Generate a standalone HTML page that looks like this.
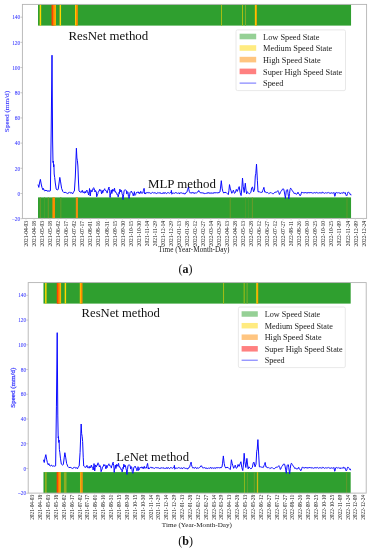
<!DOCTYPE html>
<html><head><meta charset="utf-8"><title>Speed state classification</title>
<style>
html,body{margin:0;padding:0;background:#fff;}
body{width:372px;height:550px;overflow:hidden;}
svg{display:block;font-family:'Liberation Serif','Times New Roman',serif;filter:blur(0.3px);}
</style></head>
<body>
<svg width="372" height="550" viewBox="0 0 372 550">
<rect width="372" height="550" fill="#fff"/>
<rect x="38.00" y="4.40" width="313.05" height="21.20" fill="#2f9f2f"/>
<rect x="39.66" y="4.40" width="1.50" height="21.20" fill="#ffd700"/>
<rect x="51.54" y="4.40" width="2.21" height="21.20" fill="#ff4500"/>
<rect x="53.15" y="4.40" width="2.15" height="21.20" fill="#ff8c00"/>
<rect x="54.70" y="4.40" width="1.23" height="21.20" fill="#ffb400"/>
<rect x="59.60" y="4.40" width="1.45" height="21.20" fill="#ffd700"/>
<rect x="75.00" y="4.40" width="1.62" height="21.20" fill="#ffc800"/>
<rect x="76.02" y="4.40" width="1.77" height="21.20" fill="#ff8c00"/>
<rect x="221.01" y="4.40" width="1.00" height="21.20" fill="#a8be16"/>
<rect x="242.00" y="4.40" width="1.00" height="21.20" fill="#a8c014"/>
<rect x="245.00" y="4.40" width="1.00" height="21.20" fill="#7fae28"/>
<rect x="254.87" y="4.40" width="1.30" height="21.20" fill="#ffd700"/>
<rect x="255.57" y="4.40" width="1.23" height="21.20" fill="#ffa500"/>
<rect x="38.00" y="197.40" width="313.05" height="21.00" fill="#2f9f2f"/>
<rect x="39.79" y="197.40" width="1.02" height="21.00" fill="#6e9a2a"/>
<rect x="44.02" y="197.40" width="0.80" height="21.00" fill="#4ea02e"/>
<rect x="47.77" y="197.40" width="1.02" height="21.00" fill="#6e9a2a"/>
<rect x="52.40" y="197.40" width="2.57" height="21.00" fill="#ff8c00"/>
<rect x="60.08" y="197.40" width="1.34" height="21.00" fill="#559e2c"/>
<rect x="75.83" y="197.40" width="2.14" height="21.00" fill="#f08c10"/>
<rect x="229.78" y="197.40" width="0.80" height="21.00" fill="#7a9a28"/>
<rect x="245.23" y="197.40" width="0.64" height="21.00" fill="#5a9e2a"/>
<rect x="248.50" y="197.40" width="0.54" height="21.00" fill="#5a9e2a"/>
<rect x="251.90" y="197.40" width="0.80" height="21.00" fill="#7a9a28"/>
<rect x="346.44" y="197.40" width="1.07" height="21.00" fill="#5a9a2c"/>
<polyline points="38.00,184.60 38.80,187.40 39.50,183.00 40.40,179.40 41.20,184.00 42.00,187.50 42.90,189.80 43.50,188.50 44.20,190.50 44.90,191.00 46.00,190.00 47.00,191.20 48.00,190.80 49.00,191.20 50.40,190.80 51.20,130.00 52.00,55.20 52.60,140.00 53.00,162.50 53.30,161.00 53.60,167.00 53.90,164.50 54.20,174.00 54.70,177.50 55.30,183.00 56.20,189.00 57.20,190.00 58.20,189.50 59.20,182.00 59.80,177.40 60.60,181.90 61.60,188.40 62.90,191.60 63.90,192.60 65.20,192.30 66.50,192.90 67.70,193.50 69.00,192.60 69.70,191.90 70.60,193.20 71.60,192.60 72.60,193.90 73.50,191.90 74.40,191.00 75.30,177.00 76.40,148.20 76.90,158.00 77.40,160.70 77.90,166.00 78.50,182.00 79.00,191.00 80.00,191.90 81.30,192.30 82.30,190.30 82.90,192.60 84.00,191.90 84.00,191.99 84.54,193.24 85.00,192.30 85.07,191.43 85.61,192.89 86.00,191.80 86.14,191.31 86.68,190.35 87.00,190.00 87.21,192.24 87.75,192.01 88.00,192.50 88.28,193.64 88.60,195.00 88.82,194.07 89.35,190.56 89.50,188.50 89.89,192.66 90.20,196.00 90.43,194.98 90.96,189.89 91.00,190.50 91.50,190.92 92.00,192.00 92.03,191.54 92.57,189.66 93.00,190.00 93.10,188.50 93.64,187.66 94.10,188.50 94.17,188.57 94.71,190.72 95.00,192.00 95.25,191.10 95.60,190.50 95.78,191.04 96.20,192.10 96.32,191.99 96.70,196.80 96.85,196.26 97.39,194.90 97.92,193.71 98.00,192.80 98.46,191.56 98.99,191.40 99.53,189.38 100.00,190.70 100.06,190.36 100.60,189.75 101.14,191.37 101.40,193.10 101.67,193.88 102.21,190.50 102.70,192.10 102.74,192.75 103.28,191.41 103.81,189.93 104.35,189.71 104.70,188.70 104.88,189.44 105.42,190.67 105.96,190.29 106.10,190.70 106.49,191.11 107.03,192.38 107.10,193.10 107.56,190.80 108.10,190.02 108.63,187.72 109.10,187.00 109.17,188.59 109.70,190.84 109.80,193.40 110.10,197.50 110.24,195.76 110.77,193.00 111.10,192.10 111.31,190.13 111.85,193.50 112.38,189.40 112.80,191.40 112.92,190.94 113.45,189.77 113.99,190.79 114.10,189.10 114.52,188.22 115.06,192.12 115.50,192.10 115.59,191.57 116.13,192.81 116.67,193.07 117.20,194.97 117.50,194.80 117.74,194.55 118.20,197.10 118.27,196.67 118.81,194.38 119.20,192.10 119.34,193.58 119.88,189.10 120.41,191.98 120.50,190.50 120.95,191.30 121.40,190.40 121.48,190.35 122.02,193.48 122.56,195.22 123.09,199.54 123.10,198.10 123.63,194.60 124.16,190.47 124.20,190.40 124.70,190.05 125.23,189.92 125.60,190.00 125.77,190.14 126.30,190.47 126.84,194.07 127.00,192.50 127.38,191.84 127.91,191.81 128.45,196.45 128.98,197.94 129.10,198.40 129.52,196.27 130.05,192.59 130.10,192.50 130.59,191.88 131.12,191.78 131.50,191.10 131.66,192.37 132.20,192.43 132.73,193.84 132.90,194.60 133.27,195.80 133.80,193.72 134.30,192.50 134.34,191.67 134.87,195.45 135.41,194.86 135.70,194.60 135.94,193.70 136.48,192.37 137.01,192.90 137.10,192.50 137.55,191.98 138.09,192.04 138.50,193.20 138.62,191.99 139.16,192.49 139.69,193.73 140.23,192.14 140.30,192.50 140.76,191.29 141.30,193.32 141.70,192.80 141.83,192.76 142.37,193.08 142.91,193.02 143.10,191.80 143.44,190.46 143.98,188.60 144.10,188.30 144.51,191.55 144.80,193.90 145.05,192.73 145.58,194.05 146.00,193.20 146.50,192.60 147.04,192.28 147.30,192.40 147.57,192.73 148.11,192.32 148.60,193.20 148.64,193.15 149.18,192.46 149.71,193.13 149.90,192.80 150.25,193.01 150.78,193.55 151.20,193.40 151.32,193.18 151.86,193.00 152.39,192.41 152.50,192.40 152.93,192.44 153.46,192.95 153.80,193.10 154.00,192.74 154.53,192.84 155.07,192.98 155.10,192.80 155.60,193.09 156.14,193.26 156.40,193.50 156.67,193.86 157.21,192.95 157.70,192.60 157.75,192.47 158.28,192.86 158.82,192.90 159.00,193.10 159.35,192.90 159.89,192.74 160.30,192.70 160.42,193.28 160.96,193.11 161.49,193.48 161.60,193.50 162.03,193.40 162.57,193.41 162.90,192.70 163.10,192.71 163.64,192.77 164.17,193.71 164.20,193.10 164.71,192.54 165.24,192.61 165.50,192.60 165.78,192.96 166.31,193.73 166.80,193.50 166.85,193.24 167.38,192.58 167.92,193.06 168.10,192.80 168.46,192.78 168.99,192.98 169.40,193.20 169.53,193.25 170.06,192.90 170.60,192.63 170.70,192.50 171.00,192.90 171.13,191.93 171.40,190.30 171.67,193.24 171.80,194.20 172.20,193.83 172.50,192.90 172.74,192.95 173.28,192.93 173.81,193.33 174.35,193.37 174.60,193.30 174.88,192.87 175.42,192.68 175.90,192.50 175.95,192.80 176.49,192.88 177.02,193.20 177.20,193.40 177.56,193.34 178.09,193.12 178.50,193.00 178.63,193.05 179.17,192.77 179.70,193.90 179.80,193.50 180.24,193.25 180.77,192.61 181.10,192.60 181.31,192.96 181.84,193.08 182.38,193.29 182.40,193.30 182.91,193.44 183.45,193.62 183.70,193.00 183.99,193.27 184.52,193.77 185.00,193.60 185.06,194.09 185.59,192.87 186.13,192.57 186.66,192.46 187.00,192.00 187.20,190.87 187.73,189.31 188.27,187.79 188.40,187.00 188.80,189.28 189.30,191.50 189.34,191.72 189.88,192.09 190.00,192.80 190.41,193.22 190.95,192.56 191.00,192.40 191.48,192.98 192.00,193.20 192.02,193.31 192.55,192.44 193.00,192.60 193.09,192.30 193.62,192.73 194.00,193.30 194.16,193.70 194.70,192.74 195.00,192.80 195.23,192.83 195.77,193.04 196.00,193.20 196.30,193.13 196.84,192.74 197.00,192.50 197.37,192.38 197.91,191.73 198.00,192.00 198.44,190.73 198.98,190.97 199.10,190.80 199.51,191.65 200.00,192.50 200.05,192.83 200.59,192.77 201.00,193.00 201.12,192.80 201.66,192.84 202.00,192.60 202.19,192.37 202.73,192.92 203.00,193.40 203.26,192.99 203.80,192.99 204.00,192.80 204.33,193.56 204.87,193.60 205.00,193.50 205.41,193.54 205.94,193.00 206.00,192.90 206.48,193.26 207.00,193.50 207.01,193.38 207.55,193.05 208.00,192.80 208.08,192.24 208.62,192.87 209.00,193.40 209.15,192.97 209.69,193.13 210.00,192.70 210.22,193.00 210.76,193.44 211.00,193.30 211.30,193.48 211.83,192.64 212.00,192.60 212.37,193.08 212.90,193.63 213.00,193.20 213.44,192.94 213.97,192.89 214.00,192.60 214.51,192.76 215.00,193.00 215.04,192.58 215.58,192.80 216.00,192.60 216.12,192.42 216.65,192.76 217.19,192.73 217.72,193.04 217.90,193.00 218.26,192.29 218.79,193.07 219.33,192.63 219.86,191.93 219.90,192.00 220.50,188.10 221.30,180.70 222.10,188.10 222.80,191.40 223.70,193.00 225.00,192.30 226.30,192.60 227.30,193.60 228.30,194.60 228.90,190.70 229.50,184.60 230.20,188.10 230.80,190.10 231.80,193.30 232.80,191.40 233.40,190.10 234.40,193.30 235.40,192.60 236.30,189.40 237.30,191.40 238.30,188.80 239.20,186.60 240.10,192.50 241.10,195.60 241.80,189.00 242.50,178.00 243.20,186.30 244.20,192.50 245.30,183.20 245.90,189.00 246.60,193.90 247.30,191.80 248.40,192.80 249.40,193.90 250.80,192.50 251.80,187.60 252.50,187.00 253.60,191.80 254.60,189.00 255.30,175.90 255.80,173.80 256.50,164.10 257.40,180.70 258.00,191.80 259.00,191.72 259.40,191.80 259.54,192.02 260.07,192.07 260.61,192.31 260.80,192.50 261.14,192.25 261.68,192.52 261.90,192.60 262.21,192.10 262.75,190.48 263.28,189.24 263.82,187.59 263.90,187.30 264.36,189.85 264.80,192.10 264.89,192.18 265.43,191.76 265.96,192.65 266.50,192.68 266.80,192.60 267.03,192.87 267.57,192.50 268.10,192.76 268.64,193.30 268.70,193.60 269.17,193.21 269.71,193.16 270.25,192.77 270.60,192.60 270.78,192.85 271.32,192.77 271.85,193.32 272.39,193.61 272.60,193.60 272.92,193.23 273.46,193.66 273.99,193.03 274.50,192.60 274.53,192.95 275.07,192.27 275.60,192.10 276.14,192.09 276.50,192.10 276.67,191.88 277.21,191.53 277.74,190.84 277.90,190.60 278.28,191.45 278.81,192.69 279.35,194.21 279.40,194.50 279.88,193.86 280.42,192.14 280.80,191.60 280.96,191.48 281.49,190.85 282.03,189.60 282.30,189.70 282.56,189.42 283.10,189.21 283.20,188.70 283.63,189.13 284.17,190.93 284.20,191.10 284.70,194.13 285.24,197.18 285.40,198.40 285.78,195.30 286.30,190.60 286.31,190.57 286.85,189.78 287.38,190.10 287.60,189.70 287.92,192.33 288.45,196.52 288.80,198.90 288.99,197.89 289.52,193.46 290.00,189.70 290.06,189.63 290.59,188.20 290.80,188.20 291.13,188.98 291.67,189.59 292.20,190.60 292.40,191.10 292.74,191.17 293.27,191.97 293.81,192.82 293.90,193.10 294.34,193.68 294.88,192.91 295.41,193.31 295.95,194.05 296.00,194.00 296.49,194.34 297.00,193.80 297.02,193.96 297.56,192.79 298.00,193.00 298.09,192.34 298.63,193.73 299.00,194.00 299.16,194.05 299.70,194.81 300.10,195.80 300.23,195.93 300.50,195.30 300.77,194.91 301.30,193.20 301.70,192.10 301.84,192.21 302.38,192.42 302.91,192.92 303.10,192.50 303.45,192.78 303.98,192.91 304.50,192.90 304.52,193.06 305.05,192.31 305.59,193.05 305.90,192.60 306.12,192.98 306.66,193.08 307.20,192.56 307.30,193.20 307.73,192.79 308.27,192.97 308.70,192.50 308.80,191.99 309.34,192.63 309.87,193.14 310.10,192.90 310.41,192.42 310.94,193.14 311.48,192.67 311.50,192.50 312.01,192.71 312.55,193.12 312.90,193.20 313.09,193.32 313.62,192.93 314.16,193.01 314.30,192.60 314.69,192.49 315.23,192.67 315.70,192.90 315.76,193.19 316.30,192.69 316.83,192.23 317.10,192.40 317.37,192.84 317.91,193.30 318.44,193.03 318.50,193.20 318.98,192.62 319.51,192.80 319.90,192.70 320.05,192.69 320.58,192.76 321.12,193.38 321.30,193.00 321.65,192.54 322.19,193.00 322.70,192.40 322.72,192.03 323.26,192.44 323.80,193.14 324.10,193.10 324.33,193.37 324.87,193.14 325.40,192.83 325.50,192.70 325.94,192.87 326.47,193.02 326.90,193.10 327.01,193.22 327.54,192.73 328.08,192.59 328.30,192.40 328.62,192.71 329.15,192.76 329.69,193.22 329.70,193.00 330.22,193.06 330.76,193.38 331.10,192.70 331.29,192.87 331.83,192.83 332.36,193.04 332.50,193.20 332.90,192.97 333.43,192.94 333.90,192.40 333.97,192.60 334.51,195.14 334.80,196.30 335.04,196.06 335.58,192.97 335.80,193.00 336.11,192.51 336.65,192.65 336.80,192.50 337.18,192.78 337.72,192.95 338.00,193.00 338.25,192.77 338.79,192.88 339.00,192.60 339.33,192.91 339.86,193.05 340.00,193.30 340.40,193.79 340.93,192.85 341.00,192.70 341.47,192.86 342.00,193.40 342.00,193.37 342.54,192.96 343.00,192.70 343.07,192.72 343.61,192.19 344.00,193.20 344.14,192.97 344.68,193.09 345.00,192.60 345.22,192.71 345.75,194.18 346.29,195.62 346.60,196.00 346.82,195.64 347.36,194.34 347.50,193.50 347.89,192.25 348.30,192.00 348.43,192.04 348.96,192.64 349.20,193.00 349.50,193.56 350.00,194.00 350.04,194.37 350.57,193.94 351.00,195.30" fill="none" stroke="#0a0aff" stroke-width="1.0" stroke-linejoin="round"/>
<rect x="22.40" y="4.40" width="344.20" height="214.00" fill="none" stroke="#b4b4b4" stroke-width="0.9"/>
<line x1="20.40" y1="218.69" x2="22.40" y2="218.69" stroke="#b4b4b4" stroke-width="0.7"/>
<text x="20.30" y="220.89" font-size="5.45" text-anchor="end" fill="#3a3aff" stroke="#3a3aff" stroke-width="0.06">−20</text>
<line x1="20.40" y1="193.50" x2="22.40" y2="193.50" stroke="#b4b4b4" stroke-width="0.7"/>
<text x="20.30" y="195.70" font-size="5.45" text-anchor="end" fill="#3a3aff" stroke="#3a3aff" stroke-width="0.06">0</text>
<line x1="20.40" y1="168.31" x2="22.40" y2="168.31" stroke="#b4b4b4" stroke-width="0.7"/>
<text x="20.30" y="170.51" font-size="5.45" text-anchor="end" fill="#3a3aff" stroke="#3a3aff" stroke-width="0.06">20</text>
<line x1="20.40" y1="143.12" x2="22.40" y2="143.12" stroke="#b4b4b4" stroke-width="0.7"/>
<text x="20.30" y="145.32" font-size="5.45" text-anchor="end" fill="#3a3aff" stroke="#3a3aff" stroke-width="0.06">40</text>
<line x1="20.40" y1="117.94" x2="22.40" y2="117.94" stroke="#b4b4b4" stroke-width="0.7"/>
<text x="20.30" y="120.13" font-size="5.45" text-anchor="end" fill="#3a3aff" stroke="#3a3aff" stroke-width="0.06">60</text>
<line x1="20.40" y1="92.75" x2="22.40" y2="92.75" stroke="#b4b4b4" stroke-width="0.7"/>
<text x="20.30" y="94.95" font-size="5.45" text-anchor="end" fill="#3a3aff" stroke="#3a3aff" stroke-width="0.06">80</text>
<line x1="20.40" y1="67.56" x2="22.40" y2="67.56" stroke="#b4b4b4" stroke-width="0.7"/>
<text x="20.30" y="69.76" font-size="5.45" text-anchor="end" fill="#3a3aff" stroke="#3a3aff" stroke-width="0.06">100</text>
<line x1="20.40" y1="42.37" x2="22.40" y2="42.37" stroke="#b4b4b4" stroke-width="0.7"/>
<text x="20.30" y="44.57" font-size="5.45" text-anchor="end" fill="#3a3aff" stroke="#3a3aff" stroke-width="0.06">120</text>
<line x1="20.40" y1="17.18" x2="22.40" y2="17.18" stroke="#b4b4b4" stroke-width="0.7"/>
<text x="20.30" y="19.38" font-size="5.45" text-anchor="end" fill="#3a3aff" stroke="#3a3aff" stroke-width="0.06">140</text>
<line x1="26.00" y1="218.40" x2="26.00" y2="220.40" stroke="#cfcfcf" stroke-width="0.6"/>
<text transform="translate(28.20,221.00) rotate(-90)" font-size="5.45" text-anchor="end" fill="#111">2021-04-03</text>
<line x1="34.03" y1="218.40" x2="34.03" y2="220.40" stroke="#cfcfcf" stroke-width="0.6"/>
<text transform="translate(36.23,221.00) rotate(-90)" font-size="5.45" text-anchor="end" fill="#111">2021-04-18</text>
<line x1="42.06" y1="218.40" x2="42.06" y2="220.40" stroke="#cfcfcf" stroke-width="0.6"/>
<text transform="translate(44.26,221.00) rotate(-90)" font-size="5.45" text-anchor="end" fill="#111">2021-05-03</text>
<line x1="50.10" y1="218.40" x2="50.10" y2="220.40" stroke="#cfcfcf" stroke-width="0.6"/>
<text transform="translate(52.30,221.00) rotate(-90)" font-size="5.45" text-anchor="end" fill="#111">2021-05-18</text>
<line x1="58.13" y1="218.40" x2="58.13" y2="220.40" stroke="#cfcfcf" stroke-width="0.6"/>
<text transform="translate(60.33,221.00) rotate(-90)" font-size="5.45" text-anchor="end" fill="#111">2021-06-02</text>
<line x1="66.16" y1="218.40" x2="66.16" y2="220.40" stroke="#cfcfcf" stroke-width="0.6"/>
<text transform="translate(68.36,221.00) rotate(-90)" font-size="5.45" text-anchor="end" fill="#111">2021-06-17</text>
<line x1="74.19" y1="218.40" x2="74.19" y2="220.40" stroke="#cfcfcf" stroke-width="0.6"/>
<text transform="translate(76.39,221.00) rotate(-90)" font-size="5.45" text-anchor="end" fill="#111">2021-07-02</text>
<line x1="82.23" y1="218.40" x2="82.23" y2="220.40" stroke="#cfcfcf" stroke-width="0.6"/>
<text transform="translate(84.43,221.00) rotate(-90)" font-size="5.45" text-anchor="end" fill="#111">2021-07-17</text>
<line x1="90.26" y1="218.40" x2="90.26" y2="220.40" stroke="#cfcfcf" stroke-width="0.6"/>
<text transform="translate(92.46,221.00) rotate(-90)" font-size="5.45" text-anchor="end" fill="#111">2021-08-01</text>
<line x1="98.29" y1="218.40" x2="98.29" y2="220.40" stroke="#cfcfcf" stroke-width="0.6"/>
<text transform="translate(100.49,221.00) rotate(-90)" font-size="5.45" text-anchor="end" fill="#111">2021-08-16</text>
<line x1="106.33" y1="218.40" x2="106.33" y2="220.40" stroke="#cfcfcf" stroke-width="0.6"/>
<text transform="translate(108.52,221.00) rotate(-90)" font-size="5.45" text-anchor="end" fill="#111">2021-08-31</text>
<line x1="114.36" y1="218.40" x2="114.36" y2="220.40" stroke="#cfcfcf" stroke-width="0.6"/>
<text transform="translate(116.56,221.00) rotate(-90)" font-size="5.45" text-anchor="end" fill="#111">2021-09-15</text>
<line x1="122.39" y1="218.40" x2="122.39" y2="220.40" stroke="#cfcfcf" stroke-width="0.6"/>
<text transform="translate(124.59,221.00) rotate(-90)" font-size="5.45" text-anchor="end" fill="#111">2021-09-30</text>
<line x1="130.42" y1="218.40" x2="130.42" y2="220.40" stroke="#cfcfcf" stroke-width="0.6"/>
<text transform="translate(132.62,221.00) rotate(-90)" font-size="5.45" text-anchor="end" fill="#111">2021-10-15</text>
<line x1="138.45" y1="218.40" x2="138.45" y2="220.40" stroke="#cfcfcf" stroke-width="0.6"/>
<text transform="translate(140.65,221.00) rotate(-90)" font-size="5.45" text-anchor="end" fill="#111">2021-10-30</text>
<line x1="146.49" y1="218.40" x2="146.49" y2="220.40" stroke="#cfcfcf" stroke-width="0.6"/>
<text transform="translate(148.69,221.00) rotate(-90)" font-size="5.45" text-anchor="end" fill="#111">2021-11-14</text>
<line x1="154.52" y1="218.40" x2="154.52" y2="220.40" stroke="#cfcfcf" stroke-width="0.6"/>
<text transform="translate(156.72,221.00) rotate(-90)" font-size="5.45" text-anchor="end" fill="#111">2021-11-29</text>
<line x1="162.55" y1="218.40" x2="162.55" y2="220.40" stroke="#cfcfcf" stroke-width="0.6"/>
<text transform="translate(164.75,221.00) rotate(-90)" font-size="5.45" text-anchor="end" fill="#111">2021-12-14</text>
<line x1="170.58" y1="218.40" x2="170.58" y2="220.40" stroke="#cfcfcf" stroke-width="0.6"/>
<text transform="translate(172.78,221.00) rotate(-90)" font-size="5.45" text-anchor="end" fill="#111">2021-12-29</text>
<line x1="178.62" y1="218.40" x2="178.62" y2="220.40" stroke="#cfcfcf" stroke-width="0.6"/>
<text transform="translate(180.82,221.00) rotate(-90)" font-size="5.45" text-anchor="end" fill="#111">2022-01-13</text>
<line x1="186.65" y1="218.40" x2="186.65" y2="220.40" stroke="#cfcfcf" stroke-width="0.6"/>
<text transform="translate(188.85,221.00) rotate(-90)" font-size="5.45" text-anchor="end" fill="#111">2022-01-28</text>
<line x1="194.68" y1="218.40" x2="194.68" y2="220.40" stroke="#cfcfcf" stroke-width="0.6"/>
<text transform="translate(196.88,221.00) rotate(-90)" font-size="5.45" text-anchor="end" fill="#111">2022-02-12</text>
<line x1="202.72" y1="218.40" x2="202.72" y2="220.40" stroke="#cfcfcf" stroke-width="0.6"/>
<text transform="translate(204.91,221.00) rotate(-90)" font-size="5.45" text-anchor="end" fill="#111">2022-02-27</text>
<line x1="210.75" y1="218.40" x2="210.75" y2="220.40" stroke="#cfcfcf" stroke-width="0.6"/>
<text transform="translate(212.95,221.00) rotate(-90)" font-size="5.45" text-anchor="end" fill="#111">2022-03-14</text>
<line x1="218.78" y1="218.40" x2="218.78" y2="220.40" stroke="#cfcfcf" stroke-width="0.6"/>
<text transform="translate(220.98,221.00) rotate(-90)" font-size="5.45" text-anchor="end" fill="#111">2022-03-29</text>
<line x1="226.81" y1="218.40" x2="226.81" y2="220.40" stroke="#cfcfcf" stroke-width="0.6"/>
<text transform="translate(229.01,221.00) rotate(-90)" font-size="5.45" text-anchor="end" fill="#111">2022-04-13</text>
<line x1="234.84" y1="218.40" x2="234.84" y2="220.40" stroke="#cfcfcf" stroke-width="0.6"/>
<text transform="translate(237.04,221.00) rotate(-90)" font-size="5.45" text-anchor="end" fill="#111">2022-04-28</text>
<line x1="242.88" y1="218.40" x2="242.88" y2="220.40" stroke="#cfcfcf" stroke-width="0.6"/>
<text transform="translate(245.08,221.00) rotate(-90)" font-size="5.45" text-anchor="end" fill="#111">2022-05-13</text>
<line x1="250.91" y1="218.40" x2="250.91" y2="220.40" stroke="#cfcfcf" stroke-width="0.6"/>
<text transform="translate(253.11,221.00) rotate(-90)" font-size="5.45" text-anchor="end" fill="#111">2022-05-28</text>
<line x1="258.94" y1="218.40" x2="258.94" y2="220.40" stroke="#cfcfcf" stroke-width="0.6"/>
<text transform="translate(261.14,221.00) rotate(-90)" font-size="5.45" text-anchor="end" fill="#111">2022-06-12</text>
<line x1="266.98" y1="218.40" x2="266.98" y2="220.40" stroke="#cfcfcf" stroke-width="0.6"/>
<text transform="translate(269.17,221.00) rotate(-90)" font-size="5.45" text-anchor="end" fill="#111">2022-06-27</text>
<line x1="275.01" y1="218.40" x2="275.01" y2="220.40" stroke="#cfcfcf" stroke-width="0.6"/>
<text transform="translate(277.21,221.00) rotate(-90)" font-size="5.45" text-anchor="end" fill="#111">2022-07-12</text>
<line x1="283.04" y1="218.40" x2="283.04" y2="220.40" stroke="#cfcfcf" stroke-width="0.6"/>
<text transform="translate(285.24,221.00) rotate(-90)" font-size="5.45" text-anchor="end" fill="#111">2022-07-27</text>
<line x1="291.07" y1="218.40" x2="291.07" y2="220.40" stroke="#cfcfcf" stroke-width="0.6"/>
<text transform="translate(293.27,221.00) rotate(-90)" font-size="5.45" text-anchor="end" fill="#111">2022-08-11</text>
<line x1="299.10" y1="218.40" x2="299.10" y2="220.40" stroke="#cfcfcf" stroke-width="0.6"/>
<text transform="translate(301.30,221.00) rotate(-90)" font-size="5.45" text-anchor="end" fill="#111">2022-08-26</text>
<line x1="307.14" y1="218.40" x2="307.14" y2="220.40" stroke="#cfcfcf" stroke-width="0.6"/>
<text transform="translate(309.34,221.00) rotate(-90)" font-size="5.45" text-anchor="end" fill="#111">2022-09-10</text>
<line x1="315.17" y1="218.40" x2="315.17" y2="220.40" stroke="#cfcfcf" stroke-width="0.6"/>
<text transform="translate(317.37,221.00) rotate(-90)" font-size="5.45" text-anchor="end" fill="#111">2022-09-25</text>
<line x1="323.20" y1="218.40" x2="323.20" y2="220.40" stroke="#cfcfcf" stroke-width="0.6"/>
<text transform="translate(325.40,221.00) rotate(-90)" font-size="5.45" text-anchor="end" fill="#111">2022-10-10</text>
<line x1="331.24" y1="218.40" x2="331.24" y2="220.40" stroke="#cfcfcf" stroke-width="0.6"/>
<text transform="translate(333.43,221.00) rotate(-90)" font-size="5.45" text-anchor="end" fill="#111">2022-10-25</text>
<line x1="339.27" y1="218.40" x2="339.27" y2="220.40" stroke="#cfcfcf" stroke-width="0.6"/>
<text transform="translate(341.47,221.00) rotate(-90)" font-size="5.45" text-anchor="end" fill="#111">2022-11-09</text>
<line x1="347.30" y1="218.40" x2="347.30" y2="220.40" stroke="#cfcfcf" stroke-width="0.6"/>
<text transform="translate(349.50,221.00) rotate(-90)" font-size="5.45" text-anchor="end" fill="#111">2022-11-24</text>
<line x1="355.33" y1="218.40" x2="355.33" y2="220.40" stroke="#cfcfcf" stroke-width="0.6"/>
<text transform="translate(357.53,221.00) rotate(-90)" font-size="5.45" text-anchor="end" fill="#111">2022-12-09</text>
<line x1="363.37" y1="218.40" x2="363.37" y2="220.40" stroke="#cfcfcf" stroke-width="0.6"/>
<text transform="translate(365.56,221.00) rotate(-90)" font-size="5.45" text-anchor="end" fill="#111">2022-12-24</text>
<text x="193.90" y="252.39" font-size="7.25" text-anchor="middle" fill="#222">Time (Year-Month-Day)</text>
<text transform="translate(9.42,111.50) rotate(-90)" font-size="6.24" textLength="41.25" lengthAdjust="spacingAndGlyphs" text-anchor="middle" fill="#4040ff" stroke="#4040ff" stroke-width="0.12">Speed (mm/d)</text>
<text x="68.40" y="40.00" font-size="12.9" fill="#111">ResNet method</text>
<text x="148.00" y="187.90" font-size="12.9" fill="#111">MLP method</text>
<rect x="236.00" y="29.90" width="109.50" height="60.70" rx="1.6" fill="#fff" fill-opacity="0.85" stroke="#e2e2e2" stroke-width="0.8"/>
<rect x="239.60" y="33.70" width="16.60" height="5.60" fill="#95d095"/>
<text x="263.10" y="39.64" font-size="8.3" fill="#222">Low Speed State</text>
<rect x="239.60" y="45.20" width="16.60" height="5.60" fill="#ffeb80"/>
<text x="263.10" y="51.14" font-size="8.3" fill="#222">Medium Speed State</text>
<rect x="239.60" y="56.80" width="16.60" height="5.60" fill="#ffc580"/>
<text x="263.10" y="62.74" font-size="8.3" fill="#222">High Speed State</text>
<rect x="239.60" y="68.60" width="16.60" height="5.60" fill="#ff8080"/>
<text x="263.10" y="74.54" font-size="8.3" fill="#222">Super High Speed State</text>
<line x1="239.60" y1="83.10" x2="256.20" y2="83.10" stroke="#6a6aff" stroke-width="1.0"/>
<text x="263.10" y="86.24" font-size="8.3" fill="#222">Speed</text>
<text x="185.6" y="272.56" font-size="12" text-anchor="middle" fill="#111">(<tspan font-weight="bold">a</tspan>)</text>
<rect x="43.47" y="282.60" width="307.21" height="21.00" fill="#2f9f2f"/>
<rect x="45.10" y="282.60" width="1.47" height="21.00" fill="#ffd700"/>
<rect x="56.77" y="282.60" width="2.18" height="21.00" fill="#ff4500"/>
<rect x="58.34" y="282.60" width="2.12" height="21.00" fill="#ff8c00"/>
<rect x="59.87" y="282.60" width="1.21" height="21.00" fill="#ffb400"/>
<rect x="64.68" y="282.60" width="1.42" height="21.00" fill="#ffd700"/>
<rect x="79.78" y="282.60" width="1.60" height="21.00" fill="#ffc800"/>
<rect x="80.78" y="282.60" width="1.73" height="21.00" fill="#ff8c00"/>
<rect x="223.07" y="282.60" width="0.98" height="21.00" fill="#a8be16"/>
<rect x="243.67" y="282.60" width="0.98" height="21.00" fill="#a8c014"/>
<rect x="246.61" y="282.60" width="0.98" height="21.00" fill="#7fae28"/>
<rect x="256.30" y="282.60" width="1.28" height="21.00" fill="#ffd700"/>
<rect x="256.98" y="282.60" width="1.21" height="21.00" fill="#ffa500"/>
<rect x="43.47" y="472.10" width="307.21" height="21.00" fill="#2f9f2f"/>
<rect x="45.21" y="472.10" width="1.37" height="21.00" fill="#a6b41a"/>
<rect x="56.66" y="472.10" width="2.18" height="21.00" fill="#ff4500"/>
<rect x="58.24" y="472.10" width="1.97" height="21.00" fill="#ff8c00"/>
<rect x="59.60" y="472.10" width="1.16" height="21.00" fill="#ffb000"/>
<rect x="63.91" y="472.10" width="2.63" height="21.00" fill="#8caf22"/>
<rect x="79.99" y="472.10" width="1.39" height="21.00" fill="#e0c010"/>
<rect x="80.78" y="472.10" width="2.00" height="21.00" fill="#f09010"/>
<rect x="243.98" y="472.10" width="1.00" height="21.00" fill="#88b820"/>
<rect x="246.97" y="472.10" width="1.00" height="21.00" fill="#5ea02c"/>
<rect x="253.83" y="472.10" width="0.95" height="21.00" fill="#6ea028"/>
<rect x="256.88" y="472.10" width="1.26" height="21.00" fill="#d0b814"/>
<rect x="346.00" y="472.10" width="1.16" height="21.00" fill="#5a9a2c"/>
<polyline points="43.48,459.76 44.26,462.51 44.95,458.19 45.83,454.65 46.62,459.17 47.40,462.61 48.28,464.87 48.87,463.59 49.56,465.55 50.25,466.04 51.33,465.06 52.31,466.24 53.29,465.85 54.27,466.24 55.64,465.85 56.43,406.13 57.21,332.66 57.80,415.95 58.20,438.05 58.49,436.58 58.78,442.47 59.08,440.02 59.37,449.35 59.86,452.78 60.45,458.19 61.34,464.08 62.32,465.06 63.30,464.57 64.28,457.20 64.87,452.69 65.65,457.11 66.64,463.49 67.91,466.63 68.89,467.62 70.17,467.32 71.44,467.91 72.62,468.50 73.90,467.62 74.58,466.93 75.47,468.21 76.45,467.62 77.43,468.89 78.31,466.93 79.20,466.04 80.08,452.29 81.16,424.01 81.65,433.63 82.14,436.28 82.63,441.49 83.22,457.20 83.71,466.04 84.69,466.93 85.97,467.32 86.95,465.36 87.54,467.62 88.62,466.93 88.62,467.01 89.14,468.24 89.60,467.32 89.67,466.46 90.19,467.90 90.58,466.83 90.72,466.35 91.24,465.40 91.56,465.06 91.77,467.26 92.30,467.04 92.54,467.52 92.82,468.64 93.13,469.97 93.35,469.06 93.87,465.61 94.01,463.59 94.40,467.67 94.70,470.96 94.92,469.95 95.45,464.95 95.49,465.55 95.97,465.96 96.47,467.03 96.50,466.58 97.02,464.73 97.45,465.06 97.55,463.59 98.08,462.77 98.53,463.59 98.60,463.66 99.13,465.77 99.41,467.03 99.65,466.14 100.00,465.55 100.18,466.09 100.59,467.12 100.70,467.02 101.08,471.74 101.23,471.21 101.75,469.87 102.28,468.71 102.36,467.81 102.81,466.59 103.33,466.43 103.86,464.45 104.32,465.75 104.38,465.41 104.91,464.82 105.43,466.41 105.69,468.11 105.96,468.88 106.48,465.55 106.97,467.12 107.01,467.76 107.53,466.45 108.06,464.99 108.59,464.78 108.93,463.79 109.11,464.51 109.64,465.72 110.16,465.34 110.30,465.75 110.69,466.15 111.21,467.40 111.29,468.11 111.74,465.85 112.26,465.08 112.79,462.82 113.25,462.12 113.32,463.68 113.84,465.89 113.94,468.40 114.23,472.43 114.37,470.72 114.89,468.01 115.21,467.12 115.42,465.19 115.94,468.50 116.47,464.48 116.88,466.44 116.99,465.98 117.52,464.84 118.04,465.84 118.15,464.18 118.57,463.31 119.10,467.14 119.53,467.12 119.62,466.60 120.15,467.82 120.67,468.08 121.20,469.95 121.49,469.78 121.72,469.53 122.18,472.04 122.25,471.61 122.77,469.36 123.16,467.12 123.30,468.58 123.83,464.18 124.35,467.01 124.44,465.55 124.88,466.34 125.32,465.46 125.40,465.41 125.93,468.49 126.45,470.19 126.98,474.44 126.99,473.02 127.50,469.58 128.03,465.52 128.07,465.46 128.55,465.11 129.08,464.99 129.44,465.06 129.61,465.20 130.13,465.52 130.66,469.06 130.81,467.52 131.18,466.86 131.71,466.84 132.23,471.40 132.76,472.86 132.87,473.31 133.28,471.22 133.81,467.61 133.86,467.52 134.34,466.91 134.86,466.81 135.23,466.14 135.39,467.39 135.91,467.45 136.44,468.83 136.60,469.58 136.96,470.76 137.49,468.72 137.98,467.52 138.01,466.70 138.54,470.42 139.06,469.84 139.35,469.58 139.59,468.70 140.12,467.39 140.64,467.91 140.73,467.52 141.17,467.00 141.69,467.07 142.10,468.21 142.22,467.01 142.74,467.51 143.27,468.73 143.79,467.16 143.87,467.52 144.32,466.33 144.85,468.32 145.24,467.81 145.37,467.78 145.90,468.09 146.42,468.03 146.61,466.83 146.95,465.51 147.47,463.69 147.59,463.39 148.00,466.59 148.28,468.89 148.52,467.75 149.05,469.04 149.46,468.21 149.95,467.61 150.48,467.30 150.73,467.42 151.00,467.75 151.53,467.34 152.01,468.21 152.05,468.16 152.58,467.48 153.10,468.14 153.29,467.81 153.63,468.02 154.15,468.55 154.56,468.40 154.68,468.19 155.20,468.00 155.73,467.43 155.84,467.42 156.26,467.46 156.78,467.96 157.11,468.11 157.31,467.75 157.83,467.85 158.36,467.99 158.39,467.81 158.88,468.09 159.41,468.26 159.66,468.50 159.93,468.85 160.46,467.96 160.94,467.62 160.99,467.49 161.51,467.87 162.04,467.91 162.22,468.11 162.56,467.91 163.09,467.75 163.49,467.71 163.61,468.29 164.14,468.12 164.66,468.48 164.77,468.50 165.19,468.41 165.71,468.41 166.04,467.71 166.24,467.72 166.77,467.78 167.29,468.71 167.32,468.11 167.82,467.56 168.34,467.62 168.59,467.62 168.87,467.97 169.39,468.73 169.87,468.50 169.92,468.24 170.44,467.59 170.97,468.07 171.15,467.81 171.50,467.79 172.02,467.99 172.42,468.21 172.55,468.25 173.07,467.91 173.60,467.64 173.70,467.52 173.99,467.91 174.12,466.96 174.38,465.36 174.65,468.24 174.78,469.19 175.17,468.82 175.46,467.91 175.70,467.96 176.22,467.94 176.75,468.34 177.28,468.37 177.53,468.30 177.80,467.88 178.33,467.70 178.80,467.52 178.85,467.81 179.38,467.89 179.90,468.20 180.08,468.40 180.43,468.35 180.95,468.12 181.35,468.01 181.48,468.06 182.01,467.79 182.53,468.89 182.63,468.50 183.06,468.25 183.58,467.62 183.90,467.62 184.11,467.97 184.63,468.08 185.16,468.30 185.18,468.30 185.68,468.44 186.21,468.62 186.46,468.01 186.73,468.27 187.26,468.77 187.73,468.60 187.79,469.08 188.31,467.88 188.84,467.58 189.36,467.48 189.69,467.03 189.89,465.91 190.41,464.39 190.94,462.89 191.07,462.12 191.46,464.36 191.95,466.54 191.99,466.75 192.52,467.12 192.64,467.81 193.04,468.23 193.57,467.58 193.62,467.42 194.09,467.99 194.60,468.21 194.62,468.32 195.14,467.46 195.58,467.62 195.67,467.32 196.19,467.75 196.56,468.30 196.72,468.70 197.24,467.76 197.54,467.81 197.77,467.84 198.30,468.05 198.53,468.21 198.82,468.14 199.35,467.75 199.51,467.52 199.87,467.40 200.40,466.76 200.49,467.03 200.92,465.78 201.45,466.02 201.57,465.85 201.97,466.68 202.45,467.52 202.50,467.84 203.03,467.78 203.43,468.01 203.55,467.81 204.08,467.85 204.41,467.62 204.60,467.39 205.13,467.93 205.39,468.40 205.65,468.00 206.18,468.00 206.38,467.81 206.70,468.56 207.23,468.60 207.36,468.50 207.75,468.54 208.28,468.00 208.34,467.91 208.81,468.26 209.32,468.50 209.33,468.38 209.86,468.05 210.30,467.81 210.38,467.26 210.91,467.88 211.28,468.40 211.43,467.98 211.96,468.13 212.26,467.71 212.48,468.01 213.01,468.44 213.25,468.30 213.54,468.48 214.06,467.66 214.23,467.62 214.59,468.09 215.11,468.63 215.21,468.21 215.64,467.95 216.16,467.90 216.19,467.62 216.69,467.78 217.17,468.01 217.21,467.60 217.74,467.81 218.15,467.62 218.26,467.44 218.79,467.78 219.32,467.75 219.84,468.05 220.02,468.01 220.37,467.31 220.89,468.08 221.42,467.64 221.94,466.96 221.98,467.03 222.57,463.20 223.35,455.93 224.14,463.20 224.82,466.44 225.71,468.01 226.98,467.32 228.26,467.62 229.24,468.60 230.22,469.58 230.81,465.75 231.40,459.76 232.09,463.20 232.68,465.16 233.66,468.30 234.64,466.44 235.23,465.16 236.21,468.30 237.19,467.62 238.07,464.47 239.05,466.44 240.04,463.88 240.92,461.72 241.80,467.52 242.78,470.56 243.47,464.08 244.16,453.28 244.84,461.43 245.83,467.52 246.90,458.38 247.49,464.08 248.18,468.89 248.87,466.83 249.95,467.81 250.93,468.89 252.30,467.52 253.28,462.70 253.97,462.12 255.05,466.83 256.03,464.08 256.72,451.21 257.21,449.15 257.90,439.62 258.78,455.93 259.37,466.83 260.35,466.75 260.74,466.83 260.87,467.05 261.40,467.09 261.93,467.33 262.12,467.52 262.45,467.27 262.98,467.53 263.19,467.62 263.50,467.13 264.03,465.53 264.55,464.32 265.08,462.69 265.16,462.41 265.60,464.91 266.04,467.12 266.13,467.20 266.65,466.79 267.18,467.66 267.71,467.69 268.00,467.62 268.23,467.88 268.76,467.51 269.28,467.78 269.81,468.30 269.87,468.60 270.33,468.21 270.86,468.17 271.38,467.79 271.73,467.62 271.91,467.86 272.44,467.78 272.96,468.32 273.49,468.61 273.69,468.60 274.01,468.24 274.54,468.66 275.06,468.04 275.56,467.62 275.59,467.96 276.11,467.29 276.64,467.13 277.16,467.11 277.52,467.12 277.69,466.91 278.22,466.57 278.74,465.89 278.90,465.65 279.27,466.49 279.79,467.70 280.32,469.20 280.37,469.48 280.84,468.86 281.37,467.17 281.74,466.63 281.89,466.51 282.42,465.90 282.95,464.67 283.21,464.77 283.47,464.50 284.00,464.28 284.10,463.79 284.52,464.21 285.05,465.97 285.08,466.14 285.57,469.12 286.10,472.11 286.26,473.31 286.62,470.27 287.14,465.65 287.15,465.63 287.67,464.85 288.20,465.16 288.41,464.77 288.73,467.35 289.25,471.47 289.59,473.80 289.78,472.81 290.30,468.46 290.77,464.77 290.83,464.69 291.35,463.29 291.56,463.29 291.88,464.06 292.40,464.65 292.93,465.66 293.13,466.14 293.46,466.21 293.98,467.00 294.51,467.83 294.60,468.11 295.03,468.67 295.56,467.92 296.08,468.31 296.61,469.04 296.66,468.99 297.13,469.32 297.64,468.79 297.66,468.95 298.18,467.80 298.62,468.01 298.71,467.36 299.24,468.73 299.60,468.99 299.76,469.04 300.29,469.78 300.68,470.76 300.81,470.88 301.07,470.27 301.34,469.89 301.86,468.21 302.25,467.12 302.39,467.24 302.91,467.44 303.44,467.93 303.63,467.52 303.97,467.80 304.49,467.92 305.00,467.91 305.02,468.07 305.54,467.33 306.07,468.06 306.37,467.62 306.59,467.99 307.12,468.09 307.64,467.58 307.75,468.21 308.17,467.81 308.69,467.98 309.12,467.52 309.22,467.01 309.75,467.64 310.27,468.15 310.49,467.91 310.80,467.44 311.32,468.15 311.85,467.69 311.87,467.52 312.37,467.73 312.90,468.13 313.24,468.21 313.42,468.32 313.95,467.94 314.48,468.01 314.62,467.62 315.00,467.50 315.53,467.69 315.99,467.91 316.05,468.20 316.58,467.71 317.10,467.25 317.36,467.42 317.63,467.85 318.15,468.30 318.68,468.04 318.74,468.21 319.20,467.63 319.73,467.81 320.11,467.71 320.26,467.70 320.78,467.77 321.31,468.38 321.49,468.01 321.83,467.56 322.36,468.01 322.86,467.42 322.88,467.06 323.41,467.46 323.93,468.14 324.23,468.11 324.46,468.37 324.99,468.15 325.51,467.84 325.61,467.71 326.04,467.88 326.56,468.03 326.98,468.11 327.09,468.22 327.61,467.74 328.14,467.61 328.35,467.42 328.66,467.72 329.19,467.78 329.71,468.23 329.73,468.01 330.24,468.07 330.77,468.38 331.10,467.71 331.29,467.88 331.82,467.84 332.34,468.05 332.48,468.21 332.87,467.98 333.39,467.95 333.85,467.42 333.92,467.62 334.44,470.11 334.73,471.25 334.97,471.01 335.50,467.98 335.71,468.01 336.02,467.52 336.55,467.66 336.70,467.52 337.07,467.79 337.60,467.96 337.87,468.01 338.12,467.78 338.65,467.89 338.85,467.62 339.17,467.92 339.70,468.05 339.84,468.30 340.22,468.79 340.75,467.86 340.82,467.71 341.28,467.87 341.80,468.40 341.80,468.37 342.33,467.97 342.78,467.71 342.85,467.73 343.38,467.21 343.76,468.21 343.90,467.98 344.43,468.10 344.74,467.62 344.95,467.72 345.48,469.16 346.01,470.58 346.31,470.96 346.53,470.60 347.06,469.33 347.20,468.50 347.58,467.27 347.98,467.03 348.11,467.06 348.63,467.65 348.86,468.01 349.16,468.56 349.65,468.99 349.68,469.36 350.21,468.93 350.63,470.27" fill="none" stroke="#0a0aff" stroke-width="1.0" stroke-linejoin="round"/>
<rect x="28.20" y="282.60" width="338.00" height="210.50" fill="none" stroke="#b4b4b4" stroke-width="0.9"/>
<line x1="26.20" y1="493.24" x2="28.20" y2="493.24" stroke="#b4b4b4" stroke-width="0.7"/>
<text x="26.20" y="495.41" font-size="5.35" text-anchor="end" fill="#3a3aff" stroke="#3a3aff" stroke-width="0.06">−20</text>
<line x1="26.20" y1="468.50" x2="28.20" y2="468.50" stroke="#b4b4b4" stroke-width="0.7"/>
<text x="26.20" y="470.67" font-size="5.35" text-anchor="end" fill="#3a3aff" stroke="#3a3aff" stroke-width="0.06">0</text>
<line x1="26.20" y1="443.76" x2="28.20" y2="443.76" stroke="#b4b4b4" stroke-width="0.7"/>
<text x="26.20" y="445.93" font-size="5.35" text-anchor="end" fill="#3a3aff" stroke="#3a3aff" stroke-width="0.06">20</text>
<line x1="26.20" y1="419.02" x2="28.20" y2="419.02" stroke="#b4b4b4" stroke-width="0.7"/>
<text x="26.20" y="421.19" font-size="5.35" text-anchor="end" fill="#3a3aff" stroke="#3a3aff" stroke-width="0.06">40</text>
<line x1="26.20" y1="394.28" x2="28.20" y2="394.28" stroke="#b4b4b4" stroke-width="0.7"/>
<text x="26.20" y="396.45" font-size="5.35" text-anchor="end" fill="#3a3aff" stroke="#3a3aff" stroke-width="0.06">60</text>
<line x1="26.20" y1="369.54" x2="28.20" y2="369.54" stroke="#b4b4b4" stroke-width="0.7"/>
<text x="26.20" y="371.71" font-size="5.35" text-anchor="end" fill="#3a3aff" stroke="#3a3aff" stroke-width="0.06">80</text>
<line x1="26.20" y1="344.80" x2="28.20" y2="344.80" stroke="#b4b4b4" stroke-width="0.7"/>
<text x="26.20" y="346.97" font-size="5.35" text-anchor="end" fill="#3a3aff" stroke="#3a3aff" stroke-width="0.06">100</text>
<line x1="26.20" y1="320.06" x2="28.20" y2="320.06" stroke="#b4b4b4" stroke-width="0.7"/>
<text x="26.20" y="322.23" font-size="5.35" text-anchor="end" fill="#3a3aff" stroke="#3a3aff" stroke-width="0.06">120</text>
<line x1="26.20" y1="295.32" x2="28.20" y2="295.32" stroke="#b4b4b4" stroke-width="0.7"/>
<text x="26.20" y="297.49" font-size="5.35" text-anchor="end" fill="#3a3aff" stroke="#3a3aff" stroke-width="0.06">140</text>
<line x1="31.70" y1="493.10" x2="31.70" y2="495.10" stroke="#cfcfcf" stroke-width="0.6"/>
<text transform="translate(34.27,494.90) rotate(-90)" font-size="5.35" text-anchor="end" fill="#111">2021-04-03</text>
<line x1="39.58" y1="493.10" x2="39.58" y2="495.10" stroke="#cfcfcf" stroke-width="0.6"/>
<text transform="translate(42.15,494.90) rotate(-90)" font-size="5.35" text-anchor="end" fill="#111">2021-04-18</text>
<line x1="47.46" y1="493.10" x2="47.46" y2="495.10" stroke="#cfcfcf" stroke-width="0.6"/>
<text transform="translate(50.03,494.90) rotate(-90)" font-size="5.35" text-anchor="end" fill="#111">2021-05-03</text>
<line x1="55.35" y1="493.10" x2="55.35" y2="495.10" stroke="#cfcfcf" stroke-width="0.6"/>
<text transform="translate(57.91,494.90) rotate(-90)" font-size="5.35" text-anchor="end" fill="#111">2021-05-18</text>
<line x1="63.23" y1="493.10" x2="63.23" y2="495.10" stroke="#cfcfcf" stroke-width="0.6"/>
<text transform="translate(65.80,494.90) rotate(-90)" font-size="5.35" text-anchor="end" fill="#111">2021-06-02</text>
<line x1="71.11" y1="493.10" x2="71.11" y2="495.10" stroke="#cfcfcf" stroke-width="0.6"/>
<text transform="translate(73.68,494.90) rotate(-90)" font-size="5.35" text-anchor="end" fill="#111">2021-06-17</text>
<line x1="78.99" y1="493.10" x2="78.99" y2="495.10" stroke="#cfcfcf" stroke-width="0.6"/>
<text transform="translate(81.56,494.90) rotate(-90)" font-size="5.35" text-anchor="end" fill="#111">2021-07-02</text>
<line x1="86.88" y1="493.10" x2="86.88" y2="495.10" stroke="#cfcfcf" stroke-width="0.6"/>
<text transform="translate(89.44,494.90) rotate(-90)" font-size="5.35" text-anchor="end" fill="#111">2021-07-17</text>
<line x1="94.76" y1="493.10" x2="94.76" y2="495.10" stroke="#cfcfcf" stroke-width="0.6"/>
<text transform="translate(97.33,494.90) rotate(-90)" font-size="5.35" text-anchor="end" fill="#111">2021-08-01</text>
<line x1="102.64" y1="493.10" x2="102.64" y2="495.10" stroke="#cfcfcf" stroke-width="0.6"/>
<text transform="translate(105.21,494.90) rotate(-90)" font-size="5.35" text-anchor="end" fill="#111">2021-08-16</text>
<line x1="110.52" y1="493.10" x2="110.52" y2="495.10" stroke="#cfcfcf" stroke-width="0.6"/>
<text transform="translate(113.09,494.90) rotate(-90)" font-size="5.35" text-anchor="end" fill="#111">2021-08-31</text>
<line x1="118.41" y1="493.10" x2="118.41" y2="495.10" stroke="#cfcfcf" stroke-width="0.6"/>
<text transform="translate(120.97,494.90) rotate(-90)" font-size="5.35" text-anchor="end" fill="#111">2021-09-15</text>
<line x1="126.29" y1="493.10" x2="126.29" y2="495.10" stroke="#cfcfcf" stroke-width="0.6"/>
<text transform="translate(128.86,494.90) rotate(-90)" font-size="5.35" text-anchor="end" fill="#111">2021-09-30</text>
<line x1="134.17" y1="493.10" x2="134.17" y2="495.10" stroke="#cfcfcf" stroke-width="0.6"/>
<text transform="translate(136.74,494.90) rotate(-90)" font-size="5.35" text-anchor="end" fill="#111">2021-10-15</text>
<line x1="142.05" y1="493.10" x2="142.05" y2="495.10" stroke="#cfcfcf" stroke-width="0.6"/>
<text transform="translate(144.62,494.90) rotate(-90)" font-size="5.35" text-anchor="end" fill="#111">2021-10-30</text>
<line x1="149.94" y1="493.10" x2="149.94" y2="495.10" stroke="#cfcfcf" stroke-width="0.6"/>
<text transform="translate(152.50,494.90) rotate(-90)" font-size="5.35" text-anchor="end" fill="#111">2021-11-14</text>
<line x1="157.82" y1="493.10" x2="157.82" y2="495.10" stroke="#cfcfcf" stroke-width="0.6"/>
<text transform="translate(160.39,494.90) rotate(-90)" font-size="5.35" text-anchor="end" fill="#111">2021-11-29</text>
<line x1="165.70" y1="493.10" x2="165.70" y2="495.10" stroke="#cfcfcf" stroke-width="0.6"/>
<text transform="translate(168.27,494.90) rotate(-90)" font-size="5.35" text-anchor="end" fill="#111">2021-12-14</text>
<line x1="173.58" y1="493.10" x2="173.58" y2="495.10" stroke="#cfcfcf" stroke-width="0.6"/>
<text transform="translate(176.15,494.90) rotate(-90)" font-size="5.35" text-anchor="end" fill="#111">2021-12-29</text>
<line x1="181.47" y1="493.10" x2="181.47" y2="495.10" stroke="#cfcfcf" stroke-width="0.6"/>
<text transform="translate(184.03,494.90) rotate(-90)" font-size="5.35" text-anchor="end" fill="#111">2022-01-13</text>
<line x1="189.35" y1="493.10" x2="189.35" y2="495.10" stroke="#cfcfcf" stroke-width="0.6"/>
<text transform="translate(191.92,494.90) rotate(-90)" font-size="5.35" text-anchor="end" fill="#111">2022-01-28</text>
<line x1="197.23" y1="493.10" x2="197.23" y2="495.10" stroke="#cfcfcf" stroke-width="0.6"/>
<text transform="translate(199.80,494.90) rotate(-90)" font-size="5.35" text-anchor="end" fill="#111">2022-02-12</text>
<line x1="205.11" y1="493.10" x2="205.11" y2="495.10" stroke="#cfcfcf" stroke-width="0.6"/>
<text transform="translate(207.68,494.90) rotate(-90)" font-size="5.35" text-anchor="end" fill="#111">2022-02-27</text>
<line x1="213.00" y1="493.10" x2="213.00" y2="495.10" stroke="#cfcfcf" stroke-width="0.6"/>
<text transform="translate(215.56,494.90) rotate(-90)" font-size="5.35" text-anchor="end" fill="#111">2022-03-14</text>
<line x1="220.88" y1="493.10" x2="220.88" y2="495.10" stroke="#cfcfcf" stroke-width="0.6"/>
<text transform="translate(223.45,494.90) rotate(-90)" font-size="5.35" text-anchor="end" fill="#111">2022-03-29</text>
<line x1="228.76" y1="493.10" x2="228.76" y2="495.10" stroke="#cfcfcf" stroke-width="0.6"/>
<text transform="translate(231.33,494.90) rotate(-90)" font-size="5.35" text-anchor="end" fill="#111">2022-04-13</text>
<line x1="236.64" y1="493.10" x2="236.64" y2="495.10" stroke="#cfcfcf" stroke-width="0.6"/>
<text transform="translate(239.21,494.90) rotate(-90)" font-size="5.35" text-anchor="end" fill="#111">2022-04-28</text>
<line x1="244.53" y1="493.10" x2="244.53" y2="495.10" stroke="#cfcfcf" stroke-width="0.6"/>
<text transform="translate(247.09,494.90) rotate(-90)" font-size="5.35" text-anchor="end" fill="#111">2022-05-13</text>
<line x1="252.41" y1="493.10" x2="252.41" y2="495.10" stroke="#cfcfcf" stroke-width="0.6"/>
<text transform="translate(254.98,494.90) rotate(-90)" font-size="5.35" text-anchor="end" fill="#111">2022-05-28</text>
<line x1="260.29" y1="493.10" x2="260.29" y2="495.10" stroke="#cfcfcf" stroke-width="0.6"/>
<text transform="translate(262.86,494.90) rotate(-90)" font-size="5.35" text-anchor="end" fill="#111">2022-06-12</text>
<line x1="268.18" y1="493.10" x2="268.18" y2="495.10" stroke="#cfcfcf" stroke-width="0.6"/>
<text transform="translate(270.74,494.90) rotate(-90)" font-size="5.35" text-anchor="end" fill="#111">2022-06-27</text>
<line x1="276.06" y1="493.10" x2="276.06" y2="495.10" stroke="#cfcfcf" stroke-width="0.6"/>
<text transform="translate(278.62,494.90) rotate(-90)" font-size="5.35" text-anchor="end" fill="#111">2022-07-12</text>
<line x1="283.94" y1="493.10" x2="283.94" y2="495.10" stroke="#cfcfcf" stroke-width="0.6"/>
<text transform="translate(286.51,494.90) rotate(-90)" font-size="5.35" text-anchor="end" fill="#111">2022-07-27</text>
<line x1="291.82" y1="493.10" x2="291.82" y2="495.10" stroke="#cfcfcf" stroke-width="0.6"/>
<text transform="translate(294.39,494.90) rotate(-90)" font-size="5.35" text-anchor="end" fill="#111">2022-08-11</text>
<line x1="299.70" y1="493.10" x2="299.70" y2="495.10" stroke="#cfcfcf" stroke-width="0.6"/>
<text transform="translate(302.27,494.90) rotate(-90)" font-size="5.35" text-anchor="end" fill="#111">2022-08-26</text>
<line x1="307.59" y1="493.10" x2="307.59" y2="495.10" stroke="#cfcfcf" stroke-width="0.6"/>
<text transform="translate(310.15,494.90) rotate(-90)" font-size="5.35" text-anchor="end" fill="#111">2022-09-10</text>
<line x1="315.47" y1="493.10" x2="315.47" y2="495.10" stroke="#cfcfcf" stroke-width="0.6"/>
<text transform="translate(318.04,494.90) rotate(-90)" font-size="5.35" text-anchor="end" fill="#111">2022-09-25</text>
<line x1="323.35" y1="493.10" x2="323.35" y2="495.10" stroke="#cfcfcf" stroke-width="0.6"/>
<text transform="translate(325.92,494.90) rotate(-90)" font-size="5.35" text-anchor="end" fill="#111">2022-10-10</text>
<line x1="331.23" y1="493.10" x2="331.23" y2="495.10" stroke="#cfcfcf" stroke-width="0.6"/>
<text transform="translate(333.80,494.90) rotate(-90)" font-size="5.35" text-anchor="end" fill="#111">2022-10-25</text>
<line x1="339.12" y1="493.10" x2="339.12" y2="495.10" stroke="#cfcfcf" stroke-width="0.6"/>
<text transform="translate(341.68,494.90) rotate(-90)" font-size="5.35" text-anchor="end" fill="#111">2022-11-09</text>
<line x1="347.00" y1="493.10" x2="347.00" y2="495.10" stroke="#cfcfcf" stroke-width="0.6"/>
<text transform="translate(349.57,494.90) rotate(-90)" font-size="5.35" text-anchor="end" fill="#111">2022-11-24</text>
<line x1="354.88" y1="493.10" x2="354.88" y2="495.10" stroke="#cfcfcf" stroke-width="0.6"/>
<text transform="translate(357.45,494.90) rotate(-90)" font-size="5.35" text-anchor="end" fill="#111">2022-12-09</text>
<line x1="362.76" y1="493.10" x2="362.76" y2="495.10" stroke="#cfcfcf" stroke-width="0.6"/>
<text transform="translate(365.33,494.90) rotate(-90)" font-size="5.35" text-anchor="end" fill="#111">2022-12-24</text>
<text x="196.90" y="526.86" font-size="7.15" text-anchor="middle" fill="#222">Time (Year-Month-Day)</text>
<text transform="translate(14.60,387.70) rotate(-90)" font-size="7.05" textLength="40.11" lengthAdjust="spacingAndGlyphs" text-anchor="middle" fill="#4040ff" stroke="#4040ff" stroke-width="0.25">Speed (mm/d)</text>
<text x="81.60" y="316.70" font-size="12.65" fill="#111">ResNet method</text>
<text x="116.30" y="461.00" font-size="12.65" fill="#111">LeNet method</text>
<rect x="238.40" y="307.00" width="106.90" height="60.60" rx="1.6" fill="#fff" fill-opacity="0.85" stroke="#e2e2e2" stroke-width="0.8"/>
<rect x="241.60" y="311.25" width="16.20" height="5.50" fill="#95d095"/>
<text x="264.70" y="317.11" font-size="8.2" fill="#222">Low Speed State</text>
<rect x="241.60" y="322.95" width="16.20" height="5.50" fill="#ffeb80"/>
<text x="264.70" y="328.81" font-size="8.2" fill="#222">Medium Speed State</text>
<rect x="241.60" y="334.45" width="16.20" height="5.50" fill="#ffc580"/>
<text x="264.70" y="340.31" font-size="8.2" fill="#222">High Speed State</text>
<rect x="241.60" y="346.05" width="16.20" height="5.50" fill="#ff8080"/>
<text x="264.70" y="351.91" font-size="8.2" fill="#222">Super High Speed State</text>
<line x1="241.60" y1="360.20" x2="257.80" y2="360.20" stroke="#6a6aff" stroke-width="1.0"/>
<text x="264.70" y="363.31" font-size="8.2" fill="#222">Speed</text>
<text x="185.6" y="544.76" font-size="12" text-anchor="middle" fill="#111">(<tspan font-weight="bold">b</tspan>)</text>
</svg>
</body></html>
